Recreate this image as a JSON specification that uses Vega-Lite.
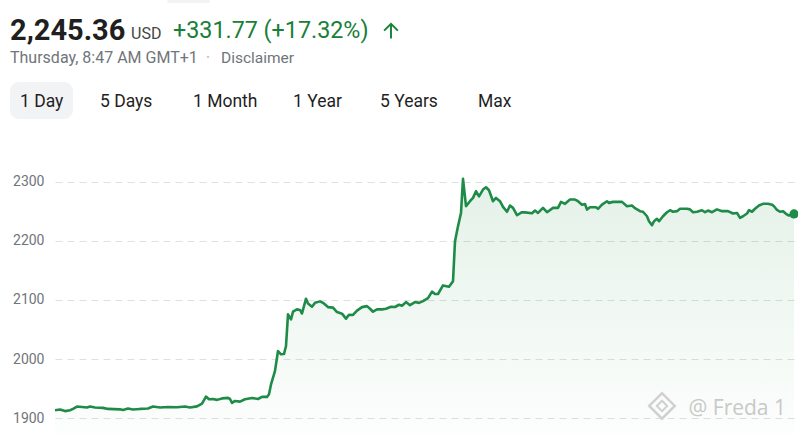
{
  "$schema": "https://vega.github.io/schema/vega-lite/v6.json",
  "padding": 0,
  "spacing": 0,
  "background": "white",
  "config": {"font": "Roboto", "view": {"stroke": null}},
  "datasets": {
    "header": [
      {"price": "2,245.36", "currency": "USD", "change": "+331.77 (+17.32%)", "direction": "up", "time": "Thursday, 8:47 AM GMT+1", "sep": "•", "note": "Disclaimer"}
    ],
    "ranges": [
      {"label": "1 Day"}, {"label": "5 Days"}, {"label": "1 Month"},
      {"label": "1 Year"}, {"label": "5 Years"}, {"label": "Max"}
    ],
    "watermark": [
      {"label": "@ Freda 1"}
    ],
    "price": [
      {"t": 0, "value": 1913.5}, {"t": 5, "value": 1914.7}, {"t": 10, "value": 1912}, {"t": 15, "value": 1913.5},
      {"t": 18, "value": 1915.7}, {"t": 22, "value": 1919.7}, {"t": 27, "value": 1919}, {"t": 32, "value": 1918},
      {"t": 35, "value": 1919.7}, {"t": 40, "value": 1918}, {"t": 48, "value": 1917.5}, {"t": 53, "value": 1915.7},
      {"t": 65, "value": 1915}, {"t": 68, "value": 1914}, {"t": 73, "value": 1916.3}, {"t": 78, "value": 1914.7},
      {"t": 85, "value": 1915.7}, {"t": 93, "value": 1916.3}, {"t": 98, "value": 1919.7}, {"t": 105, "value": 1918},
      {"t": 113, "value": 1919}, {"t": 122, "value": 1918.5}, {"t": 130, "value": 1919.7}, {"t": 135, "value": 1918},
      {"t": 142, "value": 1920}, {"t": 147, "value": 1924.8}, {"t": 151, "value": 1936.6}, {"t": 154, "value": 1932},
      {"t": 158, "value": 1932.5}, {"t": 162, "value": 1931}, {"t": 167, "value": 1933.5}, {"t": 173, "value": 1934.3},
      {"t": 175, "value": 1932.5}, {"t": 177, "value": 1925.8}, {"t": 180, "value": 1929.2}, {"t": 185, "value": 1928.1},
      {"t": 190, "value": 1932}, {"t": 197, "value": 1934.3}, {"t": 203, "value": 1932.5}, {"t": 207, "value": 1936},
      {"t": 212, "value": 1936}, {"t": 214, "value": 1940.5}, {"t": 216, "value": 1957}, {"t": 219, "value": 1974},
      {"t": 220, "value": 1980}, {"t": 223, "value": 2013.6}, {"t": 226, "value": 2008}, {"t": 229, "value": 2008.5},
      {"t": 231, "value": 2022}, {"t": 233, "value": 2075.5}, {"t": 236, "value": 2067}, {"t": 238, "value": 2080},
      {"t": 242, "value": 2084}, {"t": 245, "value": 2083}, {"t": 247, "value": 2077}, {"t": 251, "value": 2102},
      {"t": 253, "value": 2094}, {"t": 257, "value": 2088.5}, {"t": 260, "value": 2095}, {"t": 265, "value": 2097.5},
      {"t": 268, "value": 2095}, {"t": 273, "value": 2087.8}, {"t": 278, "value": 2087}, {"t": 282, "value": 2079.4},
      {"t": 287, "value": 2076.7}, {"t": 291, "value": 2068.3}, {"t": 294, "value": 2075}, {"t": 298, "value": 2074.5},
      {"t": 302, "value": 2081.8}, {"t": 307, "value": 2087.8}, {"t": 312, "value": 2089.5}, {"t": 315, "value": 2085},
      {"t": 318, "value": 2080}, {"t": 322, "value": 2084}, {"t": 327, "value": 2084}, {"t": 331, "value": 2085},
      {"t": 336, "value": 2088.5}, {"t": 340, "value": 2088}, {"t": 344, "value": 2091.8}, {"t": 347, "value": 2090},
      {"t": 351, "value": 2096.3}, {"t": 355, "value": 2091}, {"t": 360, "value": 2096.3}, {"t": 364, "value": 2095},
      {"t": 368, "value": 2098}, {"t": 373, "value": 2103}, {"t": 377, "value": 2114}, {"t": 380, "value": 2110},
      {"t": 383, "value": 2110}, {"t": 388, "value": 2124.5}, {"t": 394, "value": 2122.3}, {"t": 398, "value": 2131.7},
      {"t": 400, "value": 2199}, {"t": 403, "value": 2224.6}, {"t": 406, "value": 2247}, {"t": 408, "value": 2304.5},
      {"t": 411, "value": 2258.4}, {"t": 415, "value": 2266.8}, {"t": 418, "value": 2272.4}, {"t": 421, "value": 2283.7},
      {"t": 424, "value": 2275}, {"t": 428, "value": 2286.5}, {"t": 431, "value": 2290.4}, {"t": 434, "value": 2285.3},
      {"t": 438, "value": 2266.8}, {"t": 441, "value": 2272.4}, {"t": 445, "value": 2266.8}, {"t": 448, "value": 2257.3},
      {"t": 452, "value": 2248.9}, {"t": 455, "value": 2259.5}, {"t": 458, "value": 2255.6}, {"t": 462, "value": 2243.1},
      {"t": 467, "value": 2248.2}, {"t": 470, "value": 2248}, {"t": 477, "value": 2246.5}, {"t": 480, "value": 2251},
      {"t": 483, "value": 2247}, {"t": 488, "value": 2255.6}, {"t": 492, "value": 2248.2}, {"t": 498, "value": 2255.6},
      {"t": 503, "value": 2255.6}, {"t": 506, "value": 2265.7}, {"t": 510, "value": 2262.4}, {"t": 515, "value": 2269.6},
      {"t": 520, "value": 2269.6}, {"t": 523, "value": 2266.8}, {"t": 527, "value": 2261}, {"t": 530, "value": 2262},
      {"t": 532, "value": 2252.7}, {"t": 535, "value": 2256.6}, {"t": 541, "value": 2256.6}, {"t": 543, "value": 2254},
      {"t": 547, "value": 2261}, {"t": 552, "value": 2266.8}, {"t": 554, "value": 2264}, {"t": 558, "value": 2265.7},
      {"t": 567, "value": 2265.7}, {"t": 572, "value": 2258.4}, {"t": 577, "value": 2259.5}, {"t": 580, "value": 2255},
      {"t": 585, "value": 2250}, {"t": 588, "value": 2249}, {"t": 592, "value": 2241.4}, {"t": 594, "value": 2233},
      {"t": 597, "value": 2226.3}, {"t": 599, "value": 2233}, {"t": 602, "value": 2237}, {"t": 604, "value": 2233},
      {"t": 608, "value": 2241.4}, {"t": 612, "value": 2248.2}, {"t": 615, "value": 2251.6}, {"t": 618, "value": 2249},
      {"t": 622, "value": 2250}, {"t": 625, "value": 2254}, {"t": 632, "value": 2254}, {"t": 635, "value": 2253},
      {"t": 638, "value": 2248.2}, {"t": 642, "value": 2249}, {"t": 647, "value": 2251.6}, {"t": 650, "value": 2248.2},
      {"t": 653, "value": 2251}, {"t": 657, "value": 2248.2}, {"t": 662, "value": 2253}, {"t": 667, "value": 2250},
      {"t": 673, "value": 2250}, {"t": 678, "value": 2246}, {"t": 682, "value": 2247}, {"t": 685, "value": 2238.7},
      {"t": 688, "value": 2241.4}, {"t": 692, "value": 2246}, {"t": 694, "value": 2251.6}, {"t": 697, "value": 2249},
      {"t": 700, "value": 2254}, {"t": 704, "value": 2259.5}, {"t": 708, "value": 2262.4}, {"t": 713, "value": 2262.4},
      {"t": 717, "value": 2261}, {"t": 719, "value": 2258.4}, {"t": 722, "value": 2252}, {"t": 725, "value": 2249},
      {"t": 728, "value": 2250}, {"t": 731, "value": 2245.6}, {"t": 734, "value": 2242.6}, {"t": 739, "value": 2245.36}
    ]
  },
  "vconcat": [
    {
      "width": 740,
      "height": 152,
      "data": {"name": "header"},
      "encoding": {
        "x": {"type": "quantitative", "scale": {"domain": [55, 795], "nice": false, "zero": false}, "axis": null},
        "y": {"type": "quantitative", "scale": {"domain": [152, 0], "nice": false, "zero": false}, "axis": null}
      },
      "layer": [
        {
          "mark": {"type": "rect", "fill": "#f1f3f4", "cornerRadius": 3},
          "encoding": {"x": {"datum": 167}, "x2": {"datum": 210}, "y": {"datum": 0}, "y2": {"datum": 3}}
        },
        {
          "mark": {"type": "text", "align": "left", "baseline": "alphabetic", "fontSize": 29, "fontWeight": "bold", "color": "#1f1f1f"},
          "encoding": {"x": {"datum": 10}, "y": {"datum": 40}, "text": {"field": "price"}}
        },
        {
          "mark": {"type": "text", "align": "left", "baseline": "alphabetic", "fontSize": 16, "color": "#444746"},
          "encoding": {"x": {"datum": 131}, "y": {"datum": 39}, "text": {"field": "currency"}}
        },
        {
          "mark": {"type": "text", "align": "left", "baseline": "alphabetic", "fontSize": 23.3, "color": "#188038"},
          "encoding": {"x": {"datum": 173}, "y": {"datum": 38}, "text": {"field": "change"}}
        },
        {
          "mark": {
            "type": "point",
            "shape": "M0,1L0,-0.95M-0.92,-0.05L0,-0.97L0.92,-0.05",
            "filled": false,
            "opacity": 1,
            "color": "#188038",
            "strokeWidth": 1.9,
            "size": 225
          },
          "encoding": {"x": {"datum": 391}, "y": {"datum": 31}}
        },
        {
          "mark": {"type": "text", "align": "left", "baseline": "alphabetic", "fontSize": 16, "color": "#70757a"},
          "encoding": {"x": {"datum": 10}, "y": {"datum": 63}, "text": {"field": "time"}}
        },
        {
          "mark": {"type": "text", "align": "center", "baseline": "alphabetic", "fontSize": 10, "color": "#c4c7c5"},
          "encoding": {"x": {"datum": 208}, "y": {"datum": 61}, "text": {"field": "sep"}}
        },
        {
          "mark": {"type": "text", "align": "left", "baseline": "alphabetic", "fontSize": 15.5, "color": "#70757a"},
          "encoding": {"x": {"datum": 221}, "y": {"datum": 63}, "text": {"field": "note"}}
        },
        {
          "mark": {"type": "rect", "fill": "#f1f3f4", "cornerRadius": 9},
          "encoding": {"x": {"datum": 10}, "x2": {"datum": 73}, "y": {"datum": 82}, "y2": {"datum": 119}}
        },
        {
          "data": {"name": "ranges"},
          "transform": [{"filter": "datum.label == '1 Day'"}],
          "mark": {"type": "text", "align": "left", "baseline": "alphabetic", "fontSize": 17.5, "color": "#1f1f1f"},
          "encoding": {"x": {"datum": 20}, "y": {"datum": 107}, "text": {"field": "label"}}
        },
        {
          "data": {"name": "ranges"},
          "transform": [{"filter": "datum.label == '5 Days'"}],
          "mark": {"type": "text", "align": "left", "baseline": "alphabetic", "fontSize": 17.5, "color": "#1f1f1f"},
          "encoding": {"x": {"datum": 100}, "y": {"datum": 107}, "text": {"field": "label"}}
        },
        {
          "data": {"name": "ranges"},
          "transform": [{"filter": "datum.label == '1 Month'"}],
          "mark": {"type": "text", "align": "left", "baseline": "alphabetic", "fontSize": 17.5, "color": "#1f1f1f"},
          "encoding": {"x": {"datum": 193}, "y": {"datum": 107}, "text": {"field": "label"}}
        },
        {
          "data": {"name": "ranges"},
          "transform": [{"filter": "datum.label == '1 Year'"}],
          "mark": {"type": "text", "align": "left", "baseline": "alphabetic", "fontSize": 17.5, "color": "#1f1f1f"},
          "encoding": {"x": {"datum": 293}, "y": {"datum": 107}, "text": {"field": "label"}}
        },
        {
          "data": {"name": "ranges"},
          "transform": [{"filter": "datum.label == '5 Years'"}],
          "mark": {"type": "text", "align": "left", "baseline": "alphabetic", "fontSize": 17.5, "color": "#1f1f1f"},
          "encoding": {"x": {"datum": 380}, "y": {"datum": 107}, "text": {"field": "label"}}
        },
        {
          "data": {"name": "ranges"},
          "transform": [{"filter": "datum.label == 'Max'"}],
          "mark": {"type": "text", "align": "left", "baseline": "alphabetic", "fontSize": 17.5, "color": "#1f1f1f"},
          "encoding": {"x": {"datum": 478}, "y": {"datum": 107}, "text": {"field": "label"}}
        }
      ]
    },
    {
      "width": 740,
      "height": 281,
      "layer": [
        {
          "data": {"name": "price"},
          "mark": {
            "type": "area",
            "color": {
              "gradient": "linear",
              "x1": 0, "y1": 0, "x2": 0, "y2": 1,
              "stops": [
                {"offset": 0, "color": "rgba(30,142,62,0.12)"},
                {"offset": 1, "color": "rgba(30,142,62,0.01)"}
              ]
            }
          },
          "encoding": {
            "x": {"field": "t", "type": "quantitative", "scale": {"domain": [0, 740], "nice": false, "zero": false}, "axis": null},
            "y": {
              "field": "value",
              "type": "quantitative",
              "scale": {"domain": [1875, 2350], "nice": false, "zero": false},
              "axis": {
                "values": [1900, 2000, 2100, 2200, 2300],
                "format": "d",
                "title": null,
                "domain": false,
                "ticks": false,
                "labelPadding": 11,
                "labelFont": "Roboto",
                "labelFontSize": 14,
                "labelColor": "#70757a",
                "labelFlush": false,
                "gridColor": "#e0e0e0",
                "gridDash": [7, 5],
                "minExtent": 55
              }
            },
            "y2": {"datum": 1875}
          }
        },
        {
          "data": {"name": "price"},
          "mark": {"type": "line", "color": "#1e8c48", "strokeWidth": 2.6, "strokeJoin": "round"},
          "encoding": {
            "x": {"field": "t", "type": "quantitative"},
            "y": {"field": "value", "type": "quantitative"}
          }
        },
        {
          "data": {"name": "price"},
          "transform": [{"filter": "datum.t == 739"}],
          "mark": {"type": "point", "filled": true, "opacity": 1, "color": "#1e8c48", "size": 85},
          "encoding": {
            "x": {"field": "t", "type": "quantitative"},
            "y": {"field": "value", "type": "quantitative"}
          }
        },
        {
          "data": {"name": "watermark"},
          "mark": {"type": "point", "shape": "diamond", "filled": false, "opacity": 1, "color": "#d0d0d0", "strokeWidth": 2.5, "size": 650},
          "encoding": {"x": {"datum": 607}, "y": {"datum": 1920.7}}
        },
        {
          "data": {"name": "watermark"},
          "mark": {"type": "point", "shape": "diamond", "filled": false, "opacity": 1, "color": "#d0d0d0", "strokeWidth": 2, "size": 110},
          "encoding": {"x": {"datum": 607}, "y": {"datum": 1920.7}}
        },
        {
          "data": {"name": "watermark"},
          "mark": {"type": "text", "align": "right", "baseline": "alphabetic", "font": "Open Sans", "fontSize": 21, "color": "#c8c8c8"},
          "encoding": {"x": {"datum": 731}, "y": {"datum": 1905.4}, "text": {"field": "label"}}
        }
      ]
    }
  ]
}
